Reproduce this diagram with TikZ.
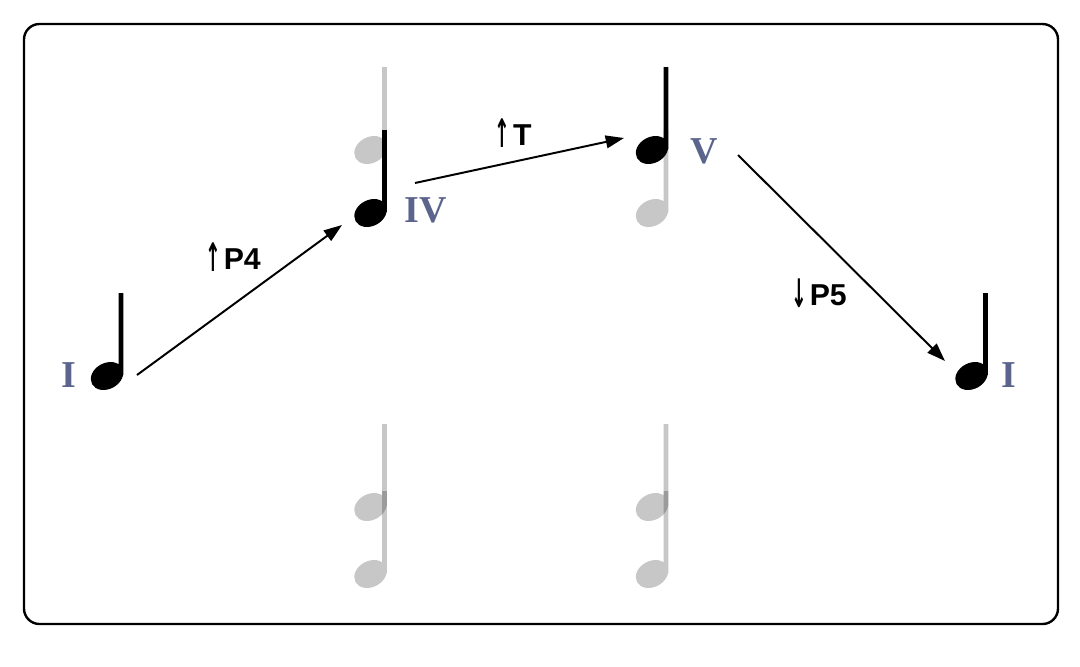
\documentclass[tikz,border=0pt]{standalone}
\usepackage{fontspec}
\setmainfont{Liberation Serif}
\setsansfont{Liberation Sans}
\newfontfamily\arrowfont{DejaVu Sans}
\usetikzlibrary{arrows.meta}

\definecolor{degree}{RGB}{90,100,140}
\tikzset{
  black note/.style={fill=black},
  ghost note/.style={fill=black,fill opacity=0.22},
  numeral/.style={text=degree,font=\bfseries\fontsize{27}{27}\selectfont},
  interval/.style={font=\sffamily\bfseries\fontsize{21.5}{22}\selectfont},
  move/.style={line width=1.4pt,-{Triangle[length=13pt,width=9pt]}}
}
% quarter note: style, stem x, stem top
\newcommand{\qnote}[3]{%
  \fill[#1] (#2+2.4,#3) rectangle (#2-2.4,#3+82)
    (#2-14,#3+83) ellipse [x radius=17, y radius=13, rotate=28];}
% tall step arrow before an interval
\newcommand{\step}[1]{\raisebox{-1.5pt}{\scalebox{0.62}[1.3]{\arrowfont\bfseries #1}}\kern2pt}

\begin{document}
\begin{tikzpicture}[x=0.025cm,y=-0.025cm]
  \useasboundingbox (0,0) rectangle (1080,666);
  \draw[line width=1.7pt,rounded corners=11pt] (24,24) rectangle (1058,624);

  % faint neighbours
  \qnote{ghost note}{384.5}{67}
  \qnote{ghost note}{666}{130}
  \qnote{ghost note}{384.5}{424}
  \qnote{ghost note}{384.5}{491}
  \qnote{ghost note}{666}{424}
  \qnote{ghost note}{666}{491}

  % the progression
  \qnote{black note}{121}{293}
  \qnote{black note}{384.5}{130}
  \qnote{black note}{666}{67}
  \qnote{black note}{985.5}{293}

  \node[numeral] (tonic) at (69,375) {I};
  \node[numeral] (subdom) at (426,210) {IV};
  \node[numeral] (dom) at (704,151) {V};
  \node[numeral] (tonic2) at (1009,375) {I};

  \coordinate (I-out) at (137,375);
  \coordinate (IV-in) at (342,225);
  \coordinate (IV-out) at (415,183);
  \coordinate (V-in) at (624,138);
  \coordinate (V-out) at (738,155);
  \coordinate (I2-in) at (945,361);

  \draw[move] (I-out) -- (IV-in);
  \draw[move] (IV-out) -- (V-in);
  \draw[move] (V-out) -- (I2-in);

  \node[interval] (p4) at (233,257) {\step{↑}P4};
  \node[interval] (tone) at (513,133) {\step{↑}T};
  \node[interval] (p5) at (819,293) {\step{↓}P5};
\end{tikzpicture}
\end{document}
